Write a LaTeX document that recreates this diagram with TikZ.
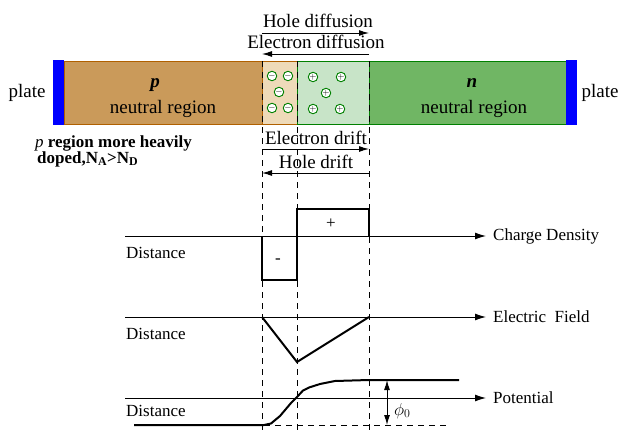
\documentclass[tikz,border=0pt]{standalone}
\usepackage{fontspec}
\setmainfont{Liberation Serif}
\usetikzlibrary{positioning,arrows.meta,arrows}

\definecolor{pbulk}{RGB}{202,154,90}
\definecolor{pdepl}{RGB}{238,218,185}
\definecolor{ndepl}{RGB}{200,228,200}
\definecolor{nbulk}{RGB}{112,182,100}
\definecolor{pedge}{RGB}{176,96,0}
\definecolor{nedge}{RGB}{0,128,0}
\definecolor{platec}{RGB}{0,0,255}

\begin{document}
\begin{tikzpicture}[x=1pt,y=-1pt,>=latex]
\tikzset{
big/.style={
  font=\fontsize{19}{22}\selectfont,
  inner sep=0pt,
  anchor=base
  },
small/.style={
  font=\fontsize{17}{20}\selectfont,
  inner sep=0pt
  },
ion/.style={
  circle, draw=nedge, fill=white, line width=0.9pt,
  minimum size=9.5pt, inner sep=0pt,
  font=\fontsize{9}{9}\selectfont
  },
guide/.style={line width=1pt, dash pattern=on 6pt off 5pt},
flow/.style={line width=1pt, -{Latex[length=10pt,width=6pt]}},
axis/.style={line width=0.9pt, -{Latex[length=11pt,width=7pt]}},
curve/.style={line width=2pt}
}
\useasboundingbox (0,0) rectangle (640,442);

% the junction bar
\filldraw[fill=pbulk, draw=pedge] (64,61) rectangle (262,124);
\filldraw[fill=pdepl, draw=pedge] (262,61) rectangle (297,124);
\filldraw[fill=ndepl, draw=nedge] (297,61) rectangle (369,124);
\filldraw[fill=nbulk, draw=nedge] (369,61) rectangle (566,124);
\fill[platec] (53,60) rectangle (64,125);
\fill[platec] (566,60) rectangle (577,125);

\foreach \x/\y [count=\i] in {272/76,288/76,279/92,272/108,288/108}
    \node[ion] (acc\i) at (\x,\y) {$-$};
\foreach \x/\y [count=\i] in {313/77,341/77,326/93,313/109,340/109}
    \node[ion] (don\i) at (\x,\y) {$+$};

\foreach \x [count=\i] in {262,297,369} {
    \coordinate (gt\i) at (\x,61);
    \coordinate (gb\i) at (\x,434);
    \draw[guide] (gt\i) -- (gb\i);
}

\node[big] (lplate) at (27,97)  {plate};
\node[big] (rplate) at (600,97) {plate};
\node[big] (ptype)  at (155,87) {\textbf{\textit{p}}};
\node[big] (pneut)  at (163,113) {neutral region};
\node[big] (ntype)  at (472,87) {\textbf{\textit{n}}};
\node[big] (nneut)  at (474,113) {neutral region};

\node[big] (hdiff)  at (318,27)   {Hole diffusion};
\node[big] (ediff)  at (316,48.5) {Electron diffusion};
\node[big] (edrift) at (316,144)  {Electron drift};
\node[big] (hdrift) at (316,168)  {Hole drift};

\foreach \f/\y/\a/\b in {hd/33/262/369, ed/54/369/262, er/149/262/369, hr/173/369/262} {
    \coordinate (\f0) at (\a,\y);
    \coordinate (\f1) at (\b,\y);
    \draw[flow] (\f0) -- (\f1);
}

\node[small, anchor=base west, font=\fontsize{17}{20}\selectfont\bfseries]
    (dopa) at (35,147) {{\mdseries\itshape p} region more heavily};
\node[small, anchor=base west, font=\fontsize{17}{20}\selectfont\bfseries]
    (dopb) at (37,163) {doped,N\textsubscript{A}>N\textsubscript{D}};

% the three plots
\foreach \f/\y/\t in {q/236/Charge Density, e/317/Electric~ Field, v/398/Potential} {
    \coordinate (\f0) at (125,\y);
    \coordinate (\f1) at (486,\y);
    \draw[axis] (\f0) -- (\f1);
    \node[small, right=7pt of \f1] (\f lab) {\t};
}
\foreach \y [count=\i] in {258,339,416}
    \node[small, anchor=base west] (dist\i) at (126,\y) {Distance};

\draw[curve] (262,236) -- (262,280) -- (297,280) -- (297,209) -- (369,209) -- (369,236);
\node[small] (qneg) at (278,261) {-};
\node[small] (qpos) at (331,224) {+};

\draw[curve] (262,317) -- (297,362) -- (369,317);

\draw[curve] (134,425) -- (264,425) -- (271,423.5) -- (280,416) -- (291,403)
    -- (297,397) -- (303,390.5) -- (309,387.5) -- (320,384) -- (335,381)
    -- (369,380) -- (459,380);
\draw[guide] (264,425) -- (450,425);

\coordinate (phia) at (387,380);
\coordinate (phib) at (387,425);
\draw[line width=1pt, {Latex[length=10pt,width=6pt]}-{Latex[length=10pt,width=6pt]}] (phia) -- (phib);
\node[font=\fontsize{18}{20}\selectfont, inner sep=0pt, anchor=west] (phi) at (394,411) {$\phi_0$};

\end{tikzpicture}
\end{document}
